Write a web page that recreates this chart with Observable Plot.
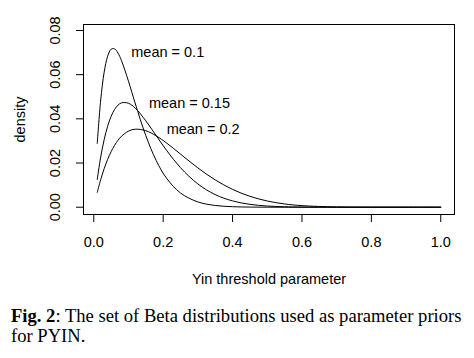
<!DOCTYPE html>
<html>
<head>
<meta charset="utf-8">
<script src="https://cdn.jsdelivr.net/npm/d3@7"></script>
<script src="https://cdn.jsdelivr.net/npm/@observablehq/plot@0.6"></script>
<style>
  html, body { margin: 0; padding: 0; background: white; }
  #wrap { position: relative; width: 474px; height: 358px; overflow: hidden; }
  #caption { position: absolute; left: 11px; top: 306px; font-family: "Liberation Serif", "Times New Roman", serif; font-size: 18.6px; line-height: 20px; color: black; white-space: nowrap; }
</style>
</head>
<body>
<div id="wrap"><div id="chart"></div><div id="caption"><b>Fig. 2</b>: The set of Beta distributions used as parameter priors<br>for PYIN.</div></div>
<script>
const xs = [0.01,0.02,0.03,0.04,0.05,0.06,0.07,0.08,0.10,0.12,0.15,0.18,0.21,0.25,0.30,0.35,0.40,0.45,0.50,0.55,0.60,0.70,0.80,0.90,1.00];
const mean010 = [0.02883,0.04852,0.06113,0.06835,0.07150,0.07168,0.06972,0.06630,0.05704,0.04671,0.03239,0.02110,0.01306,0.00643,0.00239,0.00079,0.00023,0.00006,0.00001,0,0,0,0,0,0];
const mean015 = [0.01260,0.02269,0.03061,0.03667,0.04114,0.04425,0.04623,0.04724,0.04706,0.04477,0.03910,0.03237,0.02569,0.01788,0.01052,0.00570,0.00285,0.00131,0.00054,0.00020,0.00006,0.000004,0,0,0];
const mean020 = [0.00671,0.01250,0.01745,0.02164,0.02514,0.02801,0.03033,0.03213,0.03444,0.03531,0.03462,0.03231,0.02904,0.02403,0.01779,0.01236,0.00806,0.00493,0.00281,0.00148,0.00071,0.00011,0.000007,0,0];
const seriesNames = ["mean = 0.1", "mean = 0.15", "mean = 0.2"];
const labelX = [0.108, 0.159, 0.21];
const labelY = [0.0701, 0.0471, 0.0352];
const xTicks = [0, 0.2, 0.4, 0.6, 0.8, 1.0];
const yTicks = [0, 0.02, 0.04, 0.06, 0.08];
const xTitle = "Yin threshold parameter";
const yTitle = "density";

const allSeries = [mean010, mean015, mean020];
const rows = [];
allSeries.forEach((vals, i) => vals.forEach((v, j) => rows.push({x: xs[j], y: v, s: seriesNames[i]})));
const labels = seriesNames.map((t, i) => ({x: labelX[i], y: labelY[i], t}));

const centered = {textAnchor: "middle", lineAnchor: "middle", fontSize: 14.5};
const chart = Plot.plot({
  width: 474, height: 290,
  marginLeft: 83, marginRight: 20, marginTop: 24, marginBottom: 76,
  x: {domain: [-0.0296, 1.0396]},
  y: {domain: [-0.0033, 0.0827]},
  style: {fontFamily: "'Liberation Sans', Arial, sans-serif", fontSize: "14.5px", color: "black", background: "white"},
  marks: [
    Plot.frame({stroke: "black", strokeWidth: 1}),
    Plot.axisX({ticks: xTicks, tickSize: 8, tickFormat: () => "", label: null, stroke: "black"}),
    Plot.axisY({ticks: yTicks, tickSize: 7, tickFormat: () => "", label: null, stroke: "black"}),
    Plot.text(xTicks, {x: d => d, frameAnchor: "bottom", dy: 28, text: d => d.toFixed(1), ...centered}),
    Plot.text(yTicks, {y: d => d, frameAnchor: "left", dx: -28, rotate: -90, text: d => d.toFixed(2), ...centered}),
    Plot.text([xTitle], {frameAnchor: "bottom", dy: 65, text: d => d, ...centered}),
    Plot.text([yTitle], {frameAnchor: "left", dx: -63, rotate: -90, text: d => d, ...centered}),
    Plot.line(rows, {x: "x", y: "y", z: "s", curve: "catmull-rom", stroke: "black", strokeWidth: 1}),
    Plot.text(labels, {x: "x", y: "y", text: "t", textAnchor: "start", lineAnchor: "middle", fontSize: 14.5})
  ]
});
document.getElementById("chart").appendChild(chart);
</script>
</body>
</html>
